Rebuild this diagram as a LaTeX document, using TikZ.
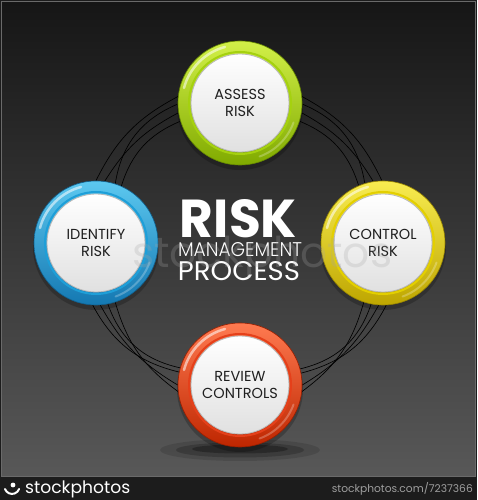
\documentclass[tikz,border=0pt]{standalone}
\usepackage{fontspec}
\setmainfont{Poppins}
\newfontfamily\lightfont{Poppins Light}
\usetikzlibrary{calc}
\definecolor{grnB}{HTML}{A5D10F}\definecolor{grnL}{HTML}{D2F048}\definecolor{grnD}{HTML}{80AA00}
\definecolor{bluB}{HTML}{1E9FD8}\definecolor{bluL}{HTML}{5CC8F0}\definecolor{bluD}{HTML}{1478B2}
\definecolor{yelB}{HTML}{E3CF00}\definecolor{yelL}{HTML}{F8EC50}\definecolor{yelD}{HTML}{BEA600}
\definecolor{redB}{HTML}{E5401A}\definecolor{redL}{HTML}{FF7A50}\definecolor{redD}{HTML}{BE2600}
\definecolor{bgTop}{HTML}{161616}\definecolor{bgBot}{HTML}{585858}
\definecolor{barC}{HTML}{1C1C1C}\definecolor{frameC}{HTML}{6A6A6A}
\pgfdeclarelayer{bglayer}
\pgfdeclarelayer{wirelayer}
\pgfsetlayers{bglayer,wirelayer,main}
\tikzset{
  wire/.style={black, line width=0.65pt},
  ringbase/.style={circle, minimum size=124pt, inner sep=0pt},
  innerdisc/.style={circle, minimum size=98pt, inner sep=0pt, top color=white,
    bottom color=black!12, draw=black!28, line width=0.8pt, align=center,
    text=black!88, font=\fontsize{14.5}{17}\selectfont},
  centertext/.style={inner sep=0pt, text=white},
}
\newcommand\glossring[6]{%
  \fill[black, opacity=0.22] ($(#2)+(0,-4)$) circle[radius=63];
  \node[ringbase, top color=#4, bottom color=#5, draw=#5!80!black, line width=0.6pt] (#1) at (#2) {};
  \draw[white, opacity=0.55, line width=2.5pt, line cap=round] ([shift={(105:58)}]#1.center) arc[start angle=105, end angle=165, radius=58];
  \draw[white, opacity=0.25, line width=2pt, line cap=round] ([shift={(-20:57)}]#1.center) arc[start angle=-20, end angle=-70, radius=57];
  \draw[#3, line width=2pt] (#1.center) circle[radius=51];
  \node[innerdisc] (#1-in) at (#2) {#6};
}
\begin{document}
\begin{tikzpicture}[x=1pt,y=1pt]
\useasboundingbox (0,0) rectangle (477,500);
\begin{pgfonlayer}{bglayer}
  \fill[barC] (0,0) rectangle (477,500);
  \shade[top color=bgTop, bottom color=bgBot] (1.5,23) rectangle (475.5,498.5);
  \draw[frameC, line width=1pt] (1.5,23) rectangle (475.5,498.5);
  \fill[black, opacity=0.12] (240,50) ellipse[x radius=80, y radius=11];
  \fill[black, opacity=0.2] (240,50) ellipse[x radius=64, y radius=7.5];
  \fill[black, opacity=0.28] (240,51) ellipse[x radius=48, y radius=4.5];
\end{pgfonlayer}

\glossring{assess}{240,397}{grnB}{grnL}{grnD}{ASSESS\\RISK}
\glossring{identify}{96,257}{bluB}{bluL}{bluD}{IDENTIFY\\RISK}
\glossring{control}{383,257}{yelB}{yelL}{yelD}{CONTROL\\RISK}
\glossring{review}{240,115}{redB}{redL}{redD}{REVIEW\\CONTROLS}

\begin{pgfonlayer}{wirelayer}
  \draw[wire] (assess.174) to[bend right=18] (identify.90);
  \draw[wire] (assess.181) to[bend right=29] (identify.72);
  \draw[wire] (assess.189) to[bend right=15] (identify.82);
  \draw[wire] (assess.197) to[bend right=25] (identify.66);
  \draw[wire] (identify.267) to[bend right=24] (review.168);
  \draw[wire] (identify.274) to[bend right=15] (review.180);
  \draw[wire] (identify.281) to[bend right=29] (review.164);
  \draw[wire] (identify.288) to[bend right=19] (review.186);
  \draw[wire] (review.11) to[bend right=24] (control.273);
  \draw[wire] (review.0) to[bend right=15] (control.266);
  \draw[wire] (review.15) to[bend right=29] (control.259);
  \draw[wire] (review.-6) to[bend right=19] (control.252);
  \draw[wire] (control.91) to[bend right=18] (assess.6);
  \draw[wire] (control.107) to[bend right=29] (assess.-1);
  \draw[wire] (control.99) to[bend right=15] (assess.-9);
  \draw[wire] (control.113) to[bend right=25] (assess.-17);
\end{pgfonlayer}

\node[centertext] (risk) at (238.5,281) {\resizebox{117pt}{38pt}{\bfseries RISK}};
\node[centertext] (mgmt) at (240,250) {\resizebox{124pt}{14pt}{\lightfont MANAGEMENT}};
\node[centertext] (proc) at (239,228.5) {\resizebox{122pt}{19pt}{PROCESS}};

\node[inner sep=0pt, anchor=base west, text=black!35, opacity=0.25] (wm) at (132,232)
  {\resizebox{260pt}{!}{stockphotos}};

\fill[white] (13,15) circle[radius=2.4] coordinate (logodot);
\draw[white, line width=2pt, line cap=round] (5,11) arc[start angle=200, end angle=340, radius=7.5];
\node[inner sep=0pt, anchor=west, text=white] (brand) at (25,11) {\resizebox{105pt}{!}{\fontseries{m}\selectfont stockphotos}};
\node[inner sep=0pt, anchor=east, text=black!38] (imgid) at (473,11) {\resizebox{141pt}{!}{stockphotos.com/7237366}};
\end{tikzpicture}
\end{document}
